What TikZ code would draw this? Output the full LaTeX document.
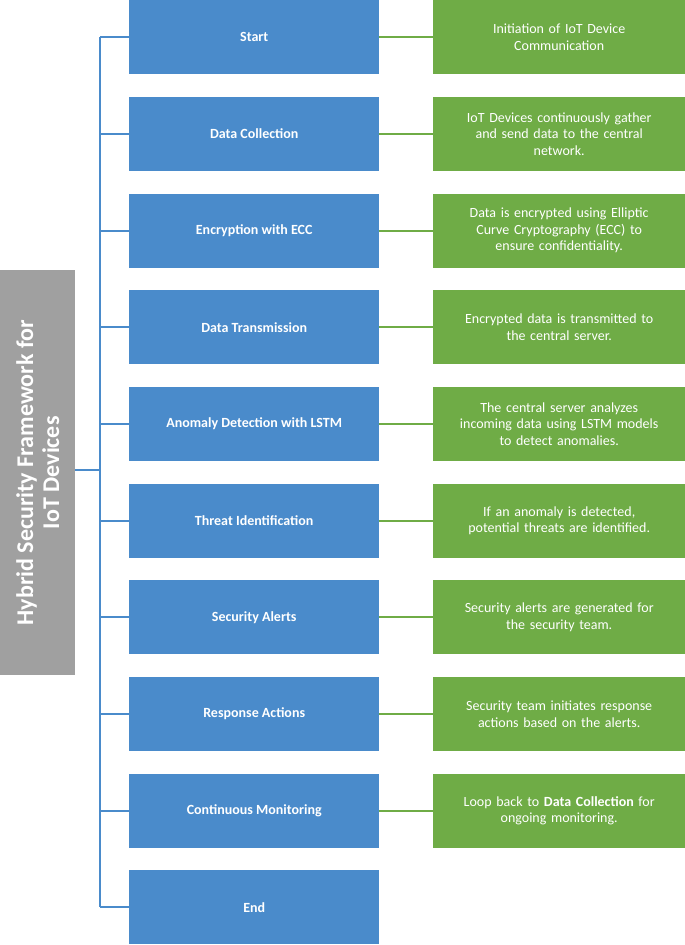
\documentclass[tikz,border=0pt]{standalone}
\usepackage{fontspec}
\setmainfont{Carlito}
\definecolor{bbox}{HTML}{4A8BCB}
\definecolor{gbox}{HTML}{6FAC46}
\definecolor{graybox}{HTML}{A0A0A0}
\begin{document}
\begin{tikzpicture}[x=1pt,y=-1pt,
  blue/.style={fill=bbox,draw=none,minimum width=250pt,minimum height=74pt,text=white,font=\fontsize{14}{16}\selectfont\bfseries,anchor=north west,inner sep=0pt},
  green/.style={fill=gbox,draw=none,minimum width=252pt,minimum height=74pt,text=white,font=\fontsize{14}{16.5}\selectfont,anchor=north west,align=center,text width=236pt,inner sep=0pt},
  bl/.style={draw=bbox,line width=2pt},
  gl/.style={draw=gbox,line width=2pt}]
\useasboundingbox (0,0) rectangle (685,945);
\node[fill=graybox,minimum width=75pt,minimum height=405pt,anchor=north west,inner sep=0pt] (title) at (0,270) {};
\node[rotate=90,text=white,font=\fontsize{24}{26}\selectfont\bfseries,align=center] at (title.center) {Hybrid Security Framework for\\IoT Devices};
\coordinate (spine) at (100,470);
\coordinate (top) at (100,37);
\coordinate (bot) at (100,907);
\draw[bl] (top) -- (bot);
\draw[bl] (title.east|-spine) -- (spine);
\foreach \i/\t/\d in {
0/Start/{Initiation of IoT Device\\Communication},
1/Data Collection/{IoT Devices continuously gather\\and send data to the central\\network.},
2/Encryption with ECC/{Data is encrypted using Elliptic\\Curve Cryptography (ECC) to\\ensure confidentiality.},
3/Data Transmission/{Encrypted data is transmitted to\\the central server.},
4/Anomaly Detection with LSTM/{The central server analyzes\\incoming data using LSTM models\\to detect anomalies.},
5/Threat Identification/{If an anomaly is detected,\\potential threats are identified.},
6/Security Alerts/{Security alerts are generated for\\the security team.},
7/Response Actions/{Security team initiates response\\actions based on the alerts.},
8/Continuous Monitoring/{Loop back to \textbf{Data Collection} for\\ongoing monitoring.}}{
  \node[blue] (b\i) at (129,{\i*96.7}) {\t};
  \node[green] (g\i) at (433,{\i*96.7}) {\d};
  \draw[gl] (b\i.east) -- (g\i.west);
  \draw[bl] (top|-b\i.west) -- (b\i.west);
}
\node[blue] (b9) at (129,870) {End};
\draw[bl] (top|-b9.west) -- (b9.west);
\end{tikzpicture}
\end{document}
